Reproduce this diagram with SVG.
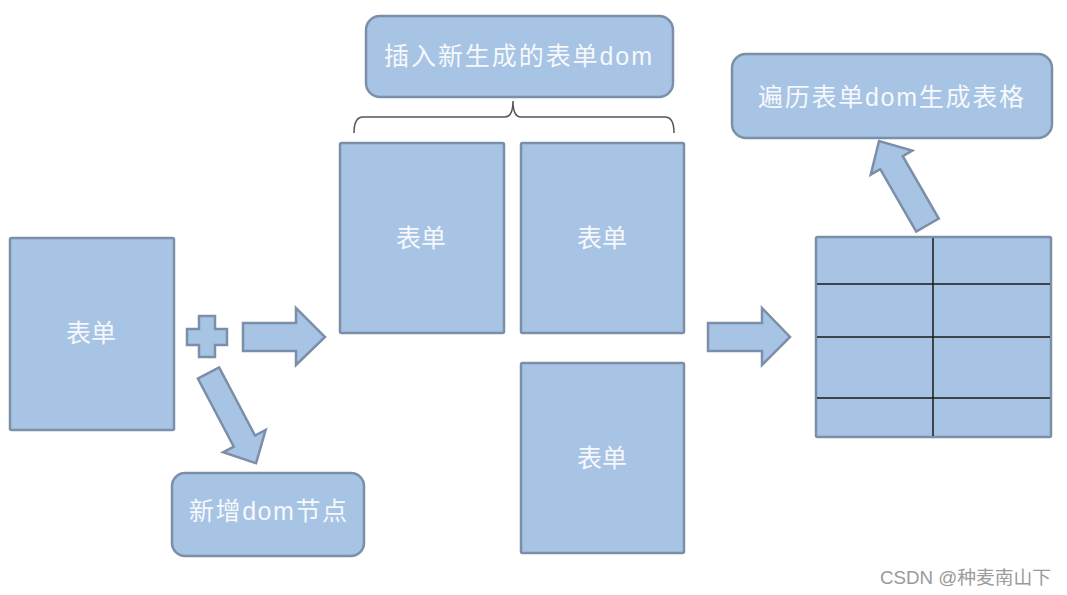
<svg xmlns="http://www.w3.org/2000/svg" width="1067" height="595" viewBox="0 0 1067 595">
<style>
.box{fill:#a7c4e4;stroke:#7c8fa8;stroke-width:2.5}
.arr{fill:#a7c4e4;stroke:#7c8fa8;stroke-width:2.5;stroke-linejoin:miter}
.t{fill:#f6f8fc;font-family:"Liberation Sans","Noto Sans CJK SC",sans-serif;font-size:25px;text-anchor:middle}
.grid{stroke:#1a1a1a;stroke-width:1.5;fill:none}
.wm{fill:#9a9a9a;font-family:"Liberation Sans","Noto Sans CJK SC",sans-serif;font-size:18px}
</style>
<rect width="1067" height="595" fill="#ffffff"/>
<g id="form-left">
<rect class="box" x="10" y="238" width="164" height="192" rx="1.5"/>
<text class="t" x="91" y="342">表单</text>
</g>
<g id="plus">
<path class="arr" d="M199,316 H215 V329 H227 V345 H215 V357 H199 V345 H187 V329 H199 Z"/>
</g>
<g id="new-node">
<rect class="box" x="172" y="473" width="192" height="83" rx="13"/>
<text class="t" x="268" y="520" textLength="158" lengthAdjust="spacing">新增dom节点</text>
</g>
<g id="insert-label">
<rect class="box" x="366" y="16" width="307" height="81" rx="14"/>
<text class="t" x="518" y="65" textLength="268" lengthAdjust="spacing">插入新生成的表单dom</text>
</g>
<g id="form-mid-left">
<rect class="box" x="340" y="143" width="164" height="190" rx="1.5"/>
<text class="t" x="421" y="247">表单</text>
</g>
<g id="form-mid-right">
<rect class="box" x="521" y="143" width="163" height="190" rx="1.5"/>
<text class="t" x="602" y="247">表单</text>
</g>
<g id="form-bottom">
<rect class="box" x="521" y="363" width="163" height="190" rx="1.5"/>
<text class="t" x="602" y="467">表单</text>
</g>
<g id="table">
<rect class="box" x="816" y="237" width="235" height="200" rx="1.5"/>
<path class="grid" d="M933,238 V436 M817,284 H1050 M817,337 H1050 M817,398 H1050"/>
</g>
<g id="traverse-label">
<rect class="box" x="732" y="54" width="320" height="84" rx="14"/>
<text class="t" x="891" y="106" textLength="266" lengthAdjust="spacing">遍历表单dom生成表格</text>
</g>
<g id="connectors">
<path d="M354,133 Q354,117 363,117 L505,117 Q513,117 513,101 Q513,117 521,117 L665,117 Q674,117 674,133" fill="none" stroke="#555555" stroke-width="1.5"/>
<polygon class="arr" transform="translate(243,337)" points="0,-14 53,-14 53,-29 82,0 53,28 53,14 0,14"/>
<polygon class="arr" transform="translate(708,337)" points="0,-14 54,-14 54,-29 82,0 54,28 54,14 0,14"/>
<polygon class="arr" transform="translate(208.5,373) rotate(62.2)" points="0,-12 77,-12 77,-24 102,0 77,24 77,12 0,12"/>
<polygon class="arr" transform="translate(927.5,225) rotate(-120)" points="0,-13 72,-13 72,-24 97,0 72,24 72,13 0,13"/>
</g>
<text class="wm" x="880" y="584" textLength="171" lengthAdjust="spacingAndGlyphs">CSDN @种麦南山下</text>
</svg>
